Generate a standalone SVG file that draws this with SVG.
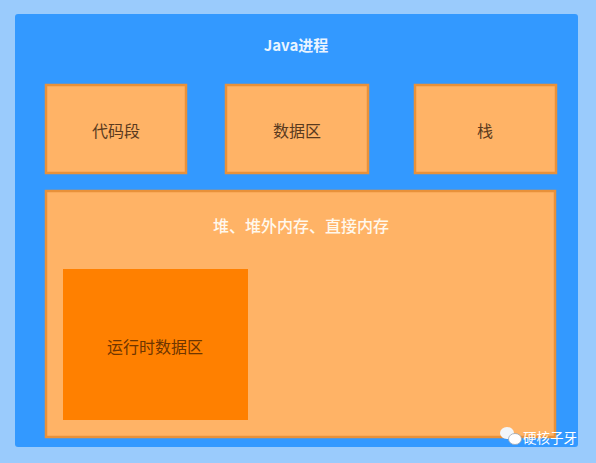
<svg xmlns="http://www.w3.org/2000/svg" width="596" height="463" viewBox="0 0 596 463">
<style>
.box{fill:#FFB366;stroke:#E8913A;stroke-width:2.5}
.lbl{font-family:"Noto Sans CJK SC","Microsoft YaHei",sans-serif;font-size:16px;fill:#5A3A1E;text-anchor:middle;dominant-baseline:central}
.wt{font-family:"Noto Sans CJK SC",sans-serif;text-anchor:middle;dominant-baseline:central}
</style>
<rect x="0" y="0" width="596" height="463" fill="#9ACBFC"/>
<g id="java-process">
<rect x="15" y="14" width="563" height="433" rx="3" fill="#3399FF"/>
<text class="wt" x="296" y="44" font-size="15" font-weight="bold" fill="#EAF4FF">Java进程</text>
</g>
<g id="code-segment">
<rect class="box" x="46" y="85" width="140" height="88"/>
<text class="lbl" x="116" y="130">代码段</text>
</g>
<g id="data-area">
<rect class="box" x="226" y="85" width="142" height="88"/>
<text class="lbl" x="297" y="130">数据区</text>
</g>
<g id="stack">
<rect class="box" x="415" y="85" width="141" height="88"/>
<text class="lbl" x="485" y="130">栈</text>
</g>
<g id="heap">
<rect class="box" x="46" y="191" width="509" height="246"/>
<text class="wt" x="301" y="225" font-size="16" font-weight="500" fill="#FFF8EC">堆、堆外内存、直接内存</text>
</g>
<g id="runtime-data-area">
<rect x="63" y="269" width="185" height="151" fill="#FF8000"/>
<text class="lbl" x="155" y="346" style="fill:#6E3500">运行时数据区</text>
</g>
<g id="connectors"></g>
<g id="watermark">
<ellipse cx="507" cy="433" rx="7" ry="6" fill="#F2F6FA"/>
<ellipse cx="515" cy="439" rx="6.5" ry="5.5" fill="#FFFFFF" stroke="#9AA6B2" stroke-width="0.8"/>
<text class="wt" x="550" y="437" font-size="13.5" fill="#FFFFFF">硬核子牙</text>
</g>
</svg>
